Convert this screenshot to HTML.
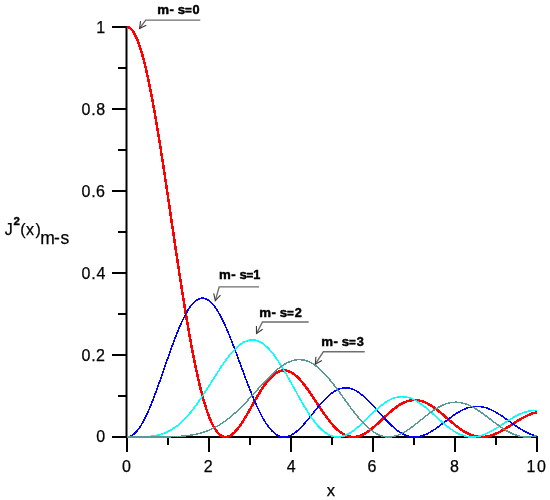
<!DOCTYPE html>
<html><head><meta charset="utf-8"><style>
html,body{margin:0;padding:0;background:#fff;overflow:hidden;}
svg{display:block;}
text{fill:#000;stroke:#000;stroke-width:0.25px;}
</style></head><body>
<svg width="550" height="500" viewBox="0 0 550 500">
<rect width="550" height="500" fill="#fff"/>
<rect x="125.5" y="26" width="2" height="412" fill="#000"/>
<rect x="125" y="436" width="413" height="2" fill="#000"/>
<rect x="112" y="436" width="14" height="2" fill="#000"/>
<rect x="118" y="395" width="8" height="2" fill="#000"/>
<rect x="112" y="354" width="14" height="2" fill="#000"/>
<rect x="118" y="313" width="8" height="2" fill="#000"/>
<rect x="112" y="272" width="14" height="2" fill="#000"/>
<rect x="118" y="231" width="8" height="2" fill="#000"/>
<rect x="112" y="190" width="14" height="2" fill="#000"/>
<rect x="118" y="149" width="8" height="2" fill="#000"/>
<rect x="112" y="108" width="14" height="2" fill="#000"/>
<rect x="118" y="67" width="8" height="2" fill="#000"/>
<rect x="112" y="26" width="14" height="2" fill="#000"/>
<rect x="126" y="438" width="2" height="14" fill="#000"/>
<rect x="167" y="438" width="2" height="7" fill="#000"/>
<rect x="208" y="438" width="2" height="14" fill="#000"/>
<rect x="249" y="438" width="2" height="7" fill="#000"/>
<rect x="290" y="438" width="2" height="14" fill="#000"/>
<rect x="331" y="438" width="2" height="7" fill="#000"/>
<rect x="372" y="438" width="2" height="14" fill="#000"/>
<rect x="413" y="438" width="2" height="7" fill="#000"/>
<rect x="454" y="438" width="2" height="14" fill="#000"/>
<rect x="495" y="438" width="2" height="7" fill="#000"/>
<rect x="536" y="438" width="2" height="14" fill="#000"/>
<path d="M127.00 27.00 L127.82 27.08 L128.64 27.33 L129.46 27.74 L130.28 28.31 L131.10 29.05 L131.92 29.94 L132.74 31.00 L133.56 32.22 L134.38 33.60 L135.20 35.14 L136.02 36.83 L136.84 38.68 L137.66 40.68 L138.48 42.84 L139.30 45.14 L140.12 47.59 L140.94 50.19 L141.76 52.93 L142.58 55.81 L143.40 58.83 L144.22 61.99 L145.04 65.27 L145.86 68.69 L146.68 72.23 L147.50 75.90 L148.32 79.69 L149.14 83.60 L149.96 87.62 L150.78 91.75 L151.60 95.98 L152.42 100.32 L153.24 104.76 L154.06 109.29 L154.88 113.92 L155.70 118.63 L156.52 123.42 L157.34 128.30 L158.16 133.25 L158.98 138.27 L159.80 143.36 L160.62 148.51 L161.44 153.71 L162.26 158.98 L163.08 164.29 L163.90 169.64 L164.72 175.04 L165.54 180.47 L166.36 185.93 L167.18 191.42 L168.00 196.93 L168.82 202.46 L169.64 208.01 L170.46 213.56 L171.28 219.12 L172.10 224.68 L172.92 230.23 L173.74 235.78 L174.56 241.31 L175.38 246.83 L176.20 252.33 L177.02 257.80 L177.84 263.24 L178.66 268.65 L179.48 274.02 L180.30 279.35 L181.12 284.64 L181.94 289.87 L182.76 295.06 L183.58 300.19 L184.40 305.26 L185.22 310.26 L186.04 315.20 L186.86 320.07 L187.68 324.87 L188.50 329.59 L189.32 334.24 L190.14 338.80 L190.96 343.28 L191.78 347.67 L192.60 351.97 L193.42 356.18 L194.24 360.30 L195.06 364.32 L195.88 368.24 L196.70 372.06 L197.52 375.78 L198.34 379.40 L199.16 382.91 L199.98 386.31 L200.80 389.61 L201.62 392.80 L202.44 395.87 L203.26 398.84 L204.08 401.69 L204.90 404.44 L205.72 407.07 L206.54 409.58 L207.36 411.98 L208.18 414.27 L209.00 416.45 L209.82 418.51 L210.64 420.46 L211.46 422.29 L212.28 424.01 L213.10 425.62 L213.92 427.12 L214.74 428.50 L215.56 429.78 L216.38 430.95 L217.20 432.01 L218.02 432.96 L218.84 433.81 L219.66 434.55 L220.48 435.19 L221.30 435.74 L222.12 436.18 L222.94 436.52 L223.76 436.77 L224.58 436.93 L225.40 437.00 L226.22 436.97 L227.04 436.87 L227.86 436.67 L228.68 436.40 L229.50 436.04 L230.32 435.61 L231.14 435.10 L231.96 434.52 L232.78 433.87 L233.60 433.16 L234.42 432.38 L235.24 431.54 L236.06 430.64 L236.88 429.69 L237.70 428.68 L238.52 427.62 L239.34 426.52 L240.16 425.38 L240.98 424.19 L241.80 422.96 L242.62 421.70 L243.44 420.41 L244.26 419.09 L245.08 417.74 L245.90 416.37 L246.72 414.98 L247.54 413.57 L248.36 412.15 L249.18 410.72 L250.00 409.27 L250.82 407.82 L251.64 406.37 L252.46 404.92 L253.28 403.47 L254.10 402.03 L254.92 400.59 L255.74 399.16 L256.56 397.75 L257.38 396.35 L258.20 394.97 L259.02 393.60 L259.84 392.26 L260.66 390.95 L261.48 389.66 L262.30 388.40 L263.12 387.17 L263.94 385.97 L264.76 384.81 L265.58 383.68 L266.40 382.59 L267.22 381.54 L268.04 380.53 L268.86 379.56 L269.68 378.64 L270.50 377.76 L271.32 376.92 L272.14 376.14 L272.96 375.40 L273.78 374.71 L274.60 374.07 L275.42 373.48 L276.24 372.95 L277.06 372.46 L277.88 372.03 L278.70 371.65 L279.52 371.33 L280.34 371.05 L281.16 370.84 L281.98 370.67 L282.80 370.56 L283.62 370.50 L284.44 370.50 L285.26 370.54 L286.08 370.65 L286.90 370.80 L287.72 371.01 L288.54 371.26 L289.36 371.57 L290.18 371.93 L291.00 372.33 L291.82 372.79 L292.64 373.29 L293.46 373.83 L294.28 374.43 L295.10 375.06 L295.92 375.74 L296.74 376.46 L297.56 377.23 L298.38 378.03 L299.20 378.86 L300.02 379.74 L300.84 380.65 L301.66 381.59 L302.48 382.56 L303.30 383.57 L304.12 384.60 L304.94 385.65 L305.76 386.74 L306.58 387.84 L307.40 388.97 L308.22 390.12 L309.04 391.29 L309.86 392.47 L310.68 393.66 L311.50 394.87 L312.32 396.09 L313.14 397.32 L313.96 398.56 L314.78 399.80 L315.60 401.04 L316.42 402.29 L317.24 403.54 L318.06 404.78 L318.88 406.02 L319.70 407.26 L320.52 408.49 L321.34 409.71 L322.16 410.92 L322.98 412.12 L323.80 413.30 L324.62 414.47 L325.44 415.62 L326.26 416.76 L327.08 417.87 L327.90 418.96 L328.72 420.04 L329.54 421.08 L330.36 422.10 L331.18 423.10 L332.00 424.07 L332.82 425.01 L333.64 425.92 L334.46 426.80 L335.28 427.64 L336.10 428.46 L336.92 429.24 L337.74 429.99 L338.56 430.70 L339.38 431.37 L340.20 432.01 L341.02 432.61 L341.84 433.18 L342.66 433.71 L343.48 434.19 L344.30 434.64 L345.12 435.05 L345.94 435.43 L346.76 435.76 L347.58 436.05 L348.40 436.30 L349.22 436.52 L350.04 436.69 L350.86 436.83 L351.68 436.92 L352.50 436.98 L353.32 437.00 L354.14 436.98 L354.96 436.92 L355.78 436.83 L356.60 436.70 L357.42 436.54 L358.24 436.34 L359.06 436.10 L359.88 435.83 L360.70 435.53 L361.52 435.19 L362.34 434.83 L363.16 434.43 L363.98 434.01 L364.80 433.55 L365.62 433.07 L366.44 432.56 L367.26 432.03 L368.08 431.47 L368.90 430.89 L369.72 430.29 L370.54 429.67 L371.36 429.03 L372.18 428.37 L373.00 427.70 L373.82 427.00 L374.64 426.30 L375.46 425.58 L376.28 424.85 L377.10 424.11 L377.92 423.36 L378.74 422.61 L379.56 421.85 L380.38 421.08 L381.20 420.31 L382.02 419.54 L382.84 418.77 L383.66 418.00 L384.48 417.23 L385.30 416.46 L386.12 415.70 L386.94 414.95 L387.76 414.20 L388.58 413.46 L389.40 412.73 L390.22 412.01 L391.04 411.30 L391.86 410.61 L392.68 409.93 L393.50 409.26 L394.32 408.62 L395.14 407.99 L395.96 407.37 L396.78 406.78 L397.60 406.21 L398.42 405.66 L399.24 405.13 L400.06 404.62 L400.88 404.14 L401.70 403.68 L402.52 403.25 L403.34 402.84 L404.16 402.46 L404.98 402.11 L405.80 401.78 L406.62 401.48 L407.44 401.21 L408.26 400.96 L409.08 400.75 L409.90 400.57 L410.72 400.41 L411.54 400.28 L412.36 400.19 L413.18 400.12 L414.00 400.08 L414.82 400.07 L415.64 400.09 L416.46 400.14 L417.28 400.22 L418.10 400.33 L418.92 400.47 L419.74 400.64 L420.56 400.83 L421.38 401.05 L422.20 401.30 L423.02 401.58 L423.84 401.88 L424.66 402.21 L425.48 402.56 L426.30 402.94 L427.12 403.34 L427.94 403.77 L428.76 404.22 L429.58 404.69 L430.40 405.18 L431.22 405.69 L432.04 406.22 L432.86 406.77 L433.68 407.33 L434.50 407.92 L435.32 408.51 L436.14 409.13 L436.96 409.75 L437.78 410.39 L438.60 411.05 L439.42 411.71 L440.24 412.38 L441.06 413.06 L441.88 413.75 L442.70 414.44 L443.52 415.14 L444.34 415.85 L445.16 416.55 L445.98 417.26 L446.80 417.98 L447.62 418.69 L448.44 419.40 L449.26 420.11 L450.08 420.81 L450.90 421.51 L451.72 422.21 L452.54 422.90 L453.36 423.58 L454.18 424.25 L455.00 424.92 L455.82 425.58 L456.64 426.22 L457.46 426.85 L458.28 427.47 L459.10 428.08 L459.92 428.67 L460.74 429.25 L461.56 429.81 L462.38 430.35 L463.20 430.88 L464.02 431.38 L464.84 431.87 L465.66 432.34 L466.48 432.79 L467.30 433.22 L468.12 433.63 L468.94 434.01 L469.76 434.38 L470.58 434.72 L471.40 435.04 L472.22 435.33 L473.04 435.61 L473.86 435.85 L474.68 436.08 L475.50 436.28 L476.32 436.45 L477.14 436.61 L477.96 436.73 L478.78 436.83 L479.60 436.91 L480.42 436.97 L481.24 436.99 L482.06 437.00 L482.88 436.98 L483.70 436.94 L484.52 436.87 L485.34 436.78 L486.16 436.66 L486.98 436.53 L487.80 436.37 L488.62 436.19 L489.44 435.99 L490.26 435.76 L491.08 435.52 L491.90 435.25 L492.72 434.97 L493.54 434.67 L494.36 434.35 L495.18 434.01 L496.00 433.65 L496.82 433.28 L497.64 432.90 L498.46 432.49 L499.28 432.08 L500.10 431.65 L500.92 431.21 L501.74 430.75 L502.56 430.29 L503.38 429.82 L504.20 429.33 L505.02 428.84 L505.84 428.34 L506.66 427.84 L507.48 427.33 L508.30 426.81 L509.12 426.29 L509.94 425.77 L510.76 425.24 L511.58 424.71 L512.40 424.19 L513.22 423.66 L514.04 423.14 L514.86 422.61 L515.68 422.10 L516.50 421.58 L517.32 421.07 L518.14 420.57 L518.96 420.07 L519.78 419.58 L520.60 419.09 L521.42 418.62 L522.24 418.16 L523.06 417.70 L523.88 417.26 L524.70 416.83 L525.52 416.41 L526.34 416.01 L527.16 415.62 L527.98 415.24 L528.80 414.88 L529.62 414.53 L530.44 414.20 L531.26 413.89 L532.08 413.60 L532.90 413.32 L533.72 413.06 L534.54 412.81 L535.36 412.59 L536.18 412.39 L537.00 412.20" fill="none" stroke="#ff0000" stroke-width="2.5" stroke-linejoin="round" shape-rendering="crispEdges"/>
<path d="M127.00 437.00 L127.82 436.96 L128.64 436.84 L129.46 436.63 L130.28 436.35 L131.10 435.98 L131.92 435.53 L132.74 435.00 L133.56 434.39 L134.38 433.71 L135.20 432.94 L136.02 432.10 L136.84 431.18 L137.66 430.19 L138.48 429.12 L139.30 427.98 L140.12 426.77 L140.94 425.49 L141.76 424.14 L142.58 422.73 L143.40 421.25 L144.22 419.70 L145.04 418.10 L145.86 416.43 L146.68 414.71 L147.50 412.94 L148.32 411.11 L149.14 409.22 L149.96 407.30 L150.78 405.32 L151.60 403.30 L152.42 401.24 L153.24 399.14 L154.06 397.00 L154.88 394.83 L155.70 392.62 L156.52 390.39 L157.34 388.13 L158.16 385.85 L158.98 383.54 L159.80 381.22 L160.62 378.88 L161.44 376.53 L162.26 374.17 L163.08 371.81 L163.90 369.43 L164.72 367.06 L165.54 364.69 L166.36 362.32 L167.18 359.96 L168.00 357.61 L168.82 355.27 L169.64 352.94 L170.46 350.63 L171.28 348.35 L172.10 346.08 L172.92 343.84 L173.74 341.63 L174.56 339.46 L175.38 337.31 L176.20 335.20 L177.02 333.13 L177.84 331.10 L178.66 329.11 L179.48 327.17 L180.30 325.27 L181.12 323.43 L181.94 321.63 L182.76 319.89 L183.58 318.21 L184.40 316.58 L185.22 315.01 L186.04 313.51 L186.86 312.06 L187.68 310.68 L188.50 309.37 L189.32 308.12 L190.14 306.95 L190.96 305.84 L191.78 304.80 L192.60 303.84 L193.42 302.95 L194.24 302.13 L195.06 301.39 L195.88 300.73 L196.70 300.14 L197.52 299.62 L198.34 299.19 L199.16 298.83 L199.98 298.55 L200.80 298.35 L201.62 298.23 L202.44 298.19 L203.26 298.22 L204.08 298.33 L204.90 298.53 L205.72 298.79 L206.54 299.14 L207.36 299.56 L208.18 300.06 L209.00 300.63 L209.82 301.28 L210.64 302.00 L211.46 302.79 L212.28 303.65 L213.10 304.59 L213.92 305.59 L214.74 306.66 L215.56 307.80 L216.38 309.00 L217.20 310.27 L218.02 311.60 L218.84 312.99 L219.66 314.44 L220.48 315.94 L221.30 317.50 L222.12 319.11 L222.94 320.78 L223.76 322.49 L224.58 324.25 L225.40 326.06 L226.22 327.91 L227.04 329.80 L227.86 331.72 L228.68 333.69 L229.50 335.69 L230.32 337.72 L231.14 339.78 L231.96 341.87 L232.78 343.98 L233.60 346.12 L234.42 348.27 L235.24 350.44 L236.06 352.63 L236.88 354.83 L237.70 357.05 L238.52 359.26 L239.34 361.49 L240.16 363.72 L240.98 365.95 L241.80 368.18 L242.62 370.40 L243.44 372.62 L244.26 374.83 L245.08 377.03 L245.90 379.21 L246.72 381.38 L247.54 383.53 L248.36 385.67 L249.18 387.78 L250.00 389.87 L250.82 391.93 L251.64 393.96 L252.46 395.96 L253.28 397.94 L254.10 399.87 L254.92 401.78 L255.74 403.64 L256.56 405.47 L257.38 407.25 L258.20 409.00 L259.02 410.70 L259.84 412.35 L260.66 413.96 L261.48 415.52 L262.30 417.04 L263.12 418.50 L263.94 419.91 L264.76 421.27 L265.58 422.58 L266.40 423.83 L267.22 425.03 L268.04 426.17 L268.86 427.26 L269.68 428.29 L270.50 429.26 L271.32 430.18 L272.14 431.04 L272.96 431.84 L273.78 432.58 L274.60 433.26 L275.42 433.89 L276.24 434.46 L277.06 434.97 L277.88 435.42 L278.70 435.81 L279.52 436.15 L280.34 436.43 L281.16 436.65 L281.98 436.82 L282.80 436.93 L283.62 436.99 L284.44 437.00 L285.26 436.95 L286.08 436.85 L286.90 436.70 L287.72 436.49 L288.54 436.24 L289.36 435.95 L290.18 435.60 L291.00 435.21 L291.82 434.78 L292.64 434.30 L293.46 433.78 L294.28 433.22 L295.10 432.63 L295.92 431.99 L296.74 431.32 L297.56 430.62 L298.38 429.88 L299.20 429.12 L300.02 428.32 L300.84 427.50 L301.66 426.65 L302.48 425.78 L303.30 424.89 L304.12 423.97 L304.94 423.04 L305.76 422.09 L306.58 421.12 L307.40 420.14 L308.22 419.15 L309.04 418.15 L309.86 417.14 L310.68 416.13 L311.50 415.11 L312.32 414.09 L313.14 413.07 L313.96 412.05 L314.78 411.03 L315.60 410.01 L316.42 409.01 L317.24 408.01 L318.06 407.01 L318.88 406.03 L319.70 405.07 L320.52 404.11 L321.34 403.17 L322.16 402.25 L322.98 401.35 L323.80 400.47 L324.62 399.61 L325.44 398.77 L326.26 397.95 L327.08 397.16 L327.90 396.40 L328.72 395.66 L329.54 394.95 L330.36 394.27 L331.18 393.62 L332.00 393.00 L332.82 392.42 L333.64 391.86 L334.46 391.35 L335.28 390.86 L336.10 390.41 L336.92 390.00 L337.74 389.62 L338.56 389.27 L339.38 388.97 L340.20 388.70 L341.02 388.47 L341.84 388.28 L342.66 388.12 L343.48 388.01 L344.30 387.93 L345.12 387.89 L345.94 387.88 L346.76 387.92 L347.58 387.99 L348.40 388.10 L349.22 388.25 L350.04 388.43 L350.86 388.65 L351.68 388.91 L352.50 389.20 L353.32 389.53 L354.14 389.89 L354.96 390.28 L355.78 390.71 L356.60 391.17 L357.42 391.66 L358.24 392.18 L359.06 392.73 L359.88 393.31 L360.70 393.92 L361.52 394.55 L362.34 395.21 L363.16 395.90 L363.98 396.61 L364.80 397.34 L365.62 398.09 L366.44 398.86 L367.26 399.65 L368.08 400.46 L368.90 401.29 L369.72 402.13 L370.54 402.98 L371.36 403.85 L372.18 404.72 L373.00 405.61 L373.82 406.51 L374.64 407.41 L375.46 408.32 L376.28 409.24 L377.10 410.16 L377.92 411.08 L378.74 412.00 L379.56 412.92 L380.38 413.84 L381.20 414.76 L382.02 415.67 L382.84 416.58 L383.66 417.47 L384.48 418.37 L385.30 419.25 L386.12 420.12 L386.94 420.98 L387.76 421.82 L388.58 422.66 L389.40 423.47 L390.22 424.27 L391.04 425.06 L391.86 425.82 L392.68 426.57 L393.50 427.30 L394.32 428.00 L395.14 428.69 L395.96 429.35 L396.78 429.98 L397.60 430.60 L398.42 431.18 L399.24 431.75 L400.06 432.28 L400.88 432.79 L401.70 433.27 L402.52 433.73 L403.34 434.15 L404.16 434.55 L404.98 434.92 L405.80 435.26 L406.62 435.56 L407.44 435.84 L408.26 436.09 L409.08 436.31 L409.90 436.50 L410.72 436.66 L411.54 436.79 L412.36 436.89 L413.18 436.95 L414.00 436.99 L414.82 437.00 L415.64 436.98 L416.46 436.93 L417.28 436.85 L418.10 436.74 L418.92 436.60 L419.74 436.44 L420.56 436.25 L421.38 436.03 L422.20 435.79 L423.02 435.52 L423.84 435.23 L424.66 434.91 L425.48 434.57 L426.30 434.20 L427.12 433.82 L427.94 433.41 L428.76 432.98 L429.58 432.54 L430.40 432.07 L431.22 431.59 L432.04 431.09 L432.86 430.57 L433.68 430.04 L434.50 429.50 L435.32 428.94 L436.14 428.37 L436.96 427.79 L437.78 427.21 L438.60 426.61 L439.42 426.00 L440.24 425.39 L441.06 424.77 L441.88 424.15 L442.70 423.52 L443.52 422.89 L444.34 422.26 L445.16 421.63 L445.98 421.00 L446.80 420.38 L447.62 419.75 L448.44 419.13 L449.26 418.52 L450.08 417.91 L450.90 417.30 L451.72 416.71 L452.54 416.12 L453.36 415.55 L454.18 414.98 L455.00 414.43 L455.82 413.89 L456.64 413.36 L457.46 412.84 L458.28 412.35 L459.10 411.86 L459.92 411.40 L460.74 410.95 L461.56 410.52 L462.38 410.10 L463.20 409.71 L464.02 409.34 L464.84 408.98 L465.66 408.65 L466.48 408.34 L467.30 408.05 L468.12 407.78 L468.94 407.53 L469.76 407.31 L470.58 407.11 L471.40 406.94 L472.22 406.78 L473.04 406.66 L473.86 406.55 L474.68 406.47 L475.50 406.42 L476.32 406.38 L477.14 406.38 L477.96 406.39 L478.78 406.43 L479.60 406.50 L480.42 406.59 L481.24 406.70 L482.06 406.83 L482.88 406.99 L483.70 407.17 L484.52 407.38 L485.34 407.60 L486.16 407.85 L486.98 408.12 L487.80 408.41 L488.62 408.72 L489.44 409.05 L490.26 409.40 L491.08 409.77 L491.90 410.15 L492.72 410.55 L493.54 410.97 L494.36 411.41 L495.18 411.86 L496.00 412.33 L496.82 412.81 L497.64 413.30 L498.46 413.81 L499.28 414.32 L500.10 414.85 L500.92 415.39 L501.74 415.93 L502.56 416.49 L503.38 417.05 L504.20 417.62 L505.02 418.20 L505.84 418.77 L506.66 419.36 L507.48 419.94 L508.30 420.53 L509.12 421.12 L509.94 421.71 L510.76 422.30 L511.58 422.89 L512.40 423.47 L513.22 424.06 L514.04 424.63 L514.86 425.21 L515.68 425.78 L516.50 426.34 L517.32 426.89 L518.14 427.44 L518.96 427.97 L519.78 428.50 L520.60 429.02 L521.42 429.52 L522.24 430.02 L523.06 430.50 L523.88 430.97 L524.70 431.42 L525.52 431.86 L526.34 432.29 L527.16 432.70 L527.98 433.09 L528.80 433.47 L529.62 433.83 L530.44 434.17 L531.26 434.49 L532.08 434.80 L532.90 435.08 L533.72 435.35 L534.54 435.60 L535.36 435.83 L536.18 436.04 L537.00 436.23" fill="none" stroke="#0000ff" stroke-width="1.6" stroke-linejoin="round" shape-rendering="crispEdges"/>
<path d="M127.00 437.00 L127.82 437.00 L128.64 437.00 L129.46 437.00 L130.28 437.00 L131.10 437.00 L131.92 437.00 L132.74 437.00 L133.56 437.00 L134.38 436.99 L135.20 436.99 L136.02 436.99 L136.84 436.98 L137.66 436.97 L138.48 436.96 L139.30 436.95 L140.12 436.93 L140.94 436.92 L141.76 436.89 L142.58 436.87 L143.40 436.84 L144.22 436.81 L145.04 436.77 L145.86 436.72 L146.68 436.67 L147.50 436.62 L148.32 436.55 L149.14 436.48 L149.96 436.40 L150.78 436.31 L151.60 436.22 L152.42 436.11 L153.24 436.00 L154.06 435.87 L154.88 435.73 L155.70 435.58 L156.52 435.42 L157.34 435.25 L158.16 435.06 L158.98 434.86 L159.80 434.64 L160.62 434.41 L161.44 434.17 L162.26 433.91 L163.08 433.63 L163.90 433.33 L164.72 433.02 L165.54 432.69 L166.36 432.34 L167.18 431.97 L168.00 431.59 L168.82 431.18 L169.64 430.75 L170.46 430.31 L171.28 429.84 L172.10 429.35 L172.92 428.84 L173.74 428.31 L174.56 427.76 L175.38 427.19 L176.20 426.59 L177.02 425.97 L177.84 425.33 L178.66 424.66 L179.48 423.98 L180.30 423.27 L181.12 422.53 L181.94 421.78 L182.76 421.00 L183.58 420.20 L184.40 419.37 L185.22 418.52 L186.04 417.66 L186.86 416.76 L187.68 415.85 L188.50 414.92 L189.32 413.96 L190.14 412.98 L190.96 411.98 L191.78 410.96 L192.60 409.93 L193.42 408.87 L194.24 407.79 L195.06 406.70 L195.88 405.59 L196.70 404.46 L197.52 403.31 L198.34 402.15 L199.16 400.97 L199.98 399.78 L200.80 398.57 L201.62 397.36 L202.44 396.13 L203.26 394.88 L204.08 393.63 L204.90 392.37 L205.72 391.10 L206.54 389.82 L207.36 388.54 L208.18 387.25 L209.00 385.96 L209.82 384.66 L210.64 383.36 L211.46 382.06 L212.28 380.76 L213.10 379.46 L213.92 378.16 L214.74 376.87 L215.56 375.58 L216.38 374.29 L217.20 373.01 L218.02 371.74 L218.84 370.48 L219.66 369.23 L220.48 367.98 L221.30 366.76 L222.12 365.54 L222.94 364.34 L223.76 363.16 L224.58 361.99 L225.40 360.85 L226.22 359.72 L227.04 358.61 L227.86 357.52 L228.68 356.46 L229.50 355.42 L230.32 354.41 L231.14 353.42 L231.96 352.46 L232.78 351.53 L233.60 350.63 L234.42 349.76 L235.24 348.92 L236.06 348.11 L236.88 347.34 L237.70 346.60 L238.52 345.90 L239.34 345.23 L240.16 344.60 L240.98 344.00 L241.80 343.44 L242.62 342.93 L243.44 342.45 L244.26 342.01 L245.08 341.62 L245.90 341.26 L246.72 340.95 L247.54 340.68 L248.36 340.45 L249.18 340.26 L250.00 340.12 L250.82 340.03 L251.64 339.97 L252.46 339.96 L253.28 340.00 L254.10 340.08 L254.92 340.20 L255.74 340.37 L256.56 340.58 L257.38 340.84 L258.20 341.14 L259.02 341.49 L259.84 341.88 L260.66 342.31 L261.48 342.79 L262.30 343.31 L263.12 343.87 L263.94 344.48 L264.76 345.12 L265.58 345.81 L266.40 346.54 L267.22 347.31 L268.04 348.11 L268.86 348.96 L269.68 349.84 L270.50 350.76 L271.32 351.72 L272.14 352.71 L272.96 353.73 L273.78 354.79 L274.60 355.88 L275.42 357.00 L276.24 358.15 L277.06 359.33 L277.88 360.54 L278.70 361.78 L279.52 363.04 L280.34 364.32 L281.16 365.63 L281.98 366.96 L282.80 368.31 L283.62 369.68 L284.44 371.07 L285.26 372.47 L286.08 373.89 L286.90 375.32 L287.72 376.77 L288.54 378.22 L289.36 379.69 L290.18 381.16 L291.00 382.64 L291.82 384.12 L292.64 385.61 L293.46 387.10 L294.28 388.59 L295.10 390.08 L295.92 391.57 L296.74 393.05 L297.56 394.53 L298.38 396.00 L299.20 397.46 L300.02 398.92 L300.84 400.36 L301.66 401.79 L302.48 403.21 L303.30 404.61 L304.12 406.00 L304.94 407.37 L305.76 408.72 L306.58 410.05 L307.40 411.36 L308.22 412.64 L309.04 413.91 L309.86 415.14 L310.68 416.36 L311.50 417.54 L312.32 418.70 L313.14 419.83 L313.96 420.93 L314.78 421.99 L315.60 423.03 L316.42 424.03 L317.24 425.00 L318.06 425.94 L318.88 426.84 L319.70 427.70 L320.52 428.53 L321.34 429.33 L322.16 430.08 L322.98 430.80 L323.80 431.48 L324.62 432.12 L325.44 432.72 L326.26 433.28 L327.08 433.81 L327.90 434.29 L328.72 434.73 L329.54 435.14 L330.36 435.50 L331.18 435.83 L332.00 436.11 L332.82 436.36 L333.64 436.56 L334.46 436.73 L335.28 436.85 L336.10 436.94 L336.92 436.99 L337.74 437.00 L338.56 436.97 L339.38 436.91 L340.20 436.81 L341.02 436.67 L341.84 436.50 L342.66 436.29 L343.48 436.05 L344.30 435.77 L345.12 435.46 L345.94 435.12 L346.76 434.75 L347.58 434.35 L348.40 433.92 L349.22 433.46 L350.04 432.97 L350.86 432.46 L351.68 431.92 L352.50 431.36 L353.32 430.77 L354.14 430.16 L354.96 429.53 L355.78 428.88 L356.60 428.22 L357.42 427.53 L358.24 426.83 L359.06 426.11 L359.88 425.38 L360.70 424.64 L361.52 423.88 L362.34 423.12 L363.16 422.34 L363.98 421.56 L364.80 420.77 L365.62 419.98 L366.44 419.18 L367.26 418.38 L368.08 417.58 L368.90 416.78 L369.72 415.98 L370.54 415.18 L371.36 414.39 L372.18 413.60 L373.00 412.82 L373.82 412.04 L374.64 411.27 L375.46 410.51 L376.28 409.77 L377.10 409.03 L377.92 408.31 L378.74 407.60 L379.56 406.91 L380.38 406.23 L381.20 405.57 L382.02 404.93 L382.84 404.30 L383.66 403.70 L384.48 403.11 L385.30 402.55 L386.12 402.01 L386.94 401.49 L387.76 401.00 L388.58 400.53 L389.40 400.08 L390.22 399.66 L391.04 399.27 L391.86 398.90 L392.68 398.56 L393.50 398.25 L394.32 397.96 L395.14 397.71 L395.96 397.48 L396.78 397.28 L397.60 397.11 L398.42 396.97 L399.24 396.86 L400.06 396.77 L400.88 396.72 L401.70 396.70 L402.52 396.70 L403.34 396.74 L404.16 396.80 L404.98 396.90 L405.80 397.02 L406.62 397.17 L407.44 397.35 L408.26 397.55 L409.08 397.79 L409.90 398.05 L410.72 398.34 L411.54 398.65 L412.36 398.99 L413.18 399.36 L414.00 399.75 L414.82 400.17 L415.64 400.60 L416.46 401.06 L417.28 401.55 L418.10 402.05 L418.92 402.57 L419.74 403.12 L420.56 403.68 L421.38 404.26 L422.20 404.86 L423.02 405.48 L423.84 406.11 L424.66 406.75 L425.48 407.41 L426.30 408.08 L427.12 408.76 L427.94 409.45 L428.76 410.16 L429.58 410.87 L430.40 411.59 L431.22 412.31 L432.04 413.04 L432.86 413.78 L433.68 414.52 L434.50 415.26 L435.32 416.00 L436.14 416.75 L436.96 417.49 L437.78 418.23 L438.60 418.97 L439.42 419.71 L440.24 420.44 L441.06 421.16 L441.88 421.88 L442.70 422.59 L443.52 423.29 L444.34 423.99 L445.16 424.67 L445.98 425.34 L446.80 426.00 L447.62 426.65 L448.44 427.28 L449.26 427.90 L450.08 428.51 L450.90 429.09 L451.72 429.66 L452.54 430.22 L453.36 430.75 L454.18 431.27 L455.00 431.77 L455.82 432.24 L456.64 432.70 L457.46 433.13 L458.28 433.55 L459.10 433.94 L459.92 434.31 L460.74 434.66 L461.56 434.98 L462.38 435.28 L463.20 435.56 L464.02 435.81 L464.84 436.04 L465.66 436.25 L466.48 436.43 L467.30 436.58 L468.12 436.71 L468.94 436.82 L469.76 436.90 L470.58 436.96 L471.40 436.99 L472.22 437.00 L473.04 436.98 L473.86 436.95 L474.68 436.88 L475.50 436.80 L476.32 436.69 L477.14 436.55 L477.96 436.40 L478.78 436.22 L479.60 436.02 L480.42 435.80 L481.24 435.56 L482.06 435.30 L482.88 435.02 L483.70 434.72 L484.52 434.40 L485.34 434.07 L486.16 433.72 L486.98 433.35 L487.80 432.96 L488.62 432.56 L489.44 432.15 L490.26 431.72 L491.08 431.28 L491.90 430.82 L492.72 430.36 L493.54 429.88 L494.36 429.39 L495.18 428.90 L496.00 428.40 L496.82 427.89 L497.64 427.37 L498.46 426.85 L499.28 426.32 L500.10 425.79 L500.92 425.26 L501.74 424.73 L502.56 424.19 L503.38 423.65 L504.20 423.12 L505.02 422.58 L505.84 422.05 L506.66 421.52 L507.48 421.00 L508.30 420.48 L509.12 419.96 L509.94 419.45 L510.76 418.95 L511.58 418.46 L512.40 417.97 L513.22 417.50 L514.04 417.03 L514.86 416.58 L515.68 416.14 L516.50 415.71 L517.32 415.29 L518.14 414.89 L518.96 414.50 L519.78 414.13 L520.60 413.77 L521.42 413.42 L522.24 413.10 L523.06 412.79 L523.88 412.49 L524.70 412.22 L525.52 411.96 L526.34 411.72 L527.16 411.51 L527.98 411.30 L528.80 411.12 L529.62 410.96 L530.44 410.82 L531.26 410.70 L532.08 410.60 L532.90 410.52 L533.72 410.46 L534.54 410.42 L535.36 410.40 L536.18 410.40 L537.00 410.42" fill="none" stroke="#00ffff" stroke-width="1.6" stroke-linejoin="round" shape-rendering="crispEdges"/>
<path d="M127.00 437.00 L127.82 437.00 L128.64 437.00 L129.46 437.00 L130.28 437.00 L131.10 437.00 L131.92 437.00 L132.74 437.00 L133.56 437.00 L134.38 437.00 L135.20 437.00 L136.02 437.00 L136.84 437.00 L137.66 437.00 L138.48 437.00 L139.30 437.00 L140.12 437.00 L140.94 437.00 L141.76 437.00 L142.58 437.00 L143.40 437.00 L144.22 437.00 L145.04 437.00 L145.86 437.00 L146.68 437.00 L147.50 437.00 L148.32 437.00 L149.14 437.00 L149.96 436.99 L150.78 436.99 L151.60 436.99 L152.42 436.99 L153.24 436.99 L154.06 436.99 L154.88 436.98 L155.70 436.98 L156.52 436.98 L157.34 436.97 L158.16 436.97 L158.98 436.96 L159.80 436.96 L160.62 436.95 L161.44 436.94 L162.26 436.93 L163.08 436.93 L163.90 436.91 L164.72 436.90 L165.54 436.89 L166.36 436.88 L167.18 436.86 L168.00 436.84 L168.82 436.82 L169.64 436.80 L170.46 436.78 L171.28 436.76 L172.10 436.73 L172.92 436.70 L173.74 436.67 L174.56 436.63 L175.38 436.60 L176.20 436.56 L177.02 436.51 L177.84 436.47 L178.66 436.42 L179.48 436.36 L180.30 436.31 L181.12 436.24 L181.94 436.18 L182.76 436.11 L183.58 436.03 L184.40 435.95 L185.22 435.87 L186.04 435.78 L186.86 435.68 L187.68 435.58 L188.50 435.48 L189.32 435.36 L190.14 435.24 L190.96 435.12 L191.78 434.98 L192.60 434.84 L193.42 434.70 L194.24 434.54 L195.06 434.38 L195.88 434.21 L196.70 434.03 L197.52 433.84 L198.34 433.64 L199.16 433.44 L199.98 433.22 L200.80 433.00 L201.62 432.76 L202.44 432.52 L203.26 432.27 L204.08 432.00 L204.90 431.73 L205.72 431.44 L206.54 431.14 L207.36 430.83 L208.18 430.51 L209.00 430.18 L209.82 429.84 L210.64 429.49 L211.46 429.12 L212.28 428.74 L213.10 428.35 L213.92 427.94 L214.74 427.53 L215.56 427.10 L216.38 426.65 L217.20 426.20 L218.02 425.73 L218.84 425.25 L219.66 424.75 L220.48 424.24 L221.30 423.72 L222.12 423.18 L222.94 422.63 L223.76 422.07 L224.58 421.50 L225.40 420.91 L226.22 420.31 L227.04 419.69 L227.86 419.06 L228.68 418.42 L229.50 417.76 L230.32 417.10 L231.14 416.42 L231.96 415.72 L232.78 415.02 L233.60 414.30 L234.42 413.57 L235.24 412.83 L236.06 412.08 L236.88 411.31 L237.70 410.54 L238.52 409.75 L239.34 408.96 L240.16 408.15 L240.98 407.34 L241.80 406.51 L242.62 405.68 L243.44 404.83 L244.26 403.98 L245.08 403.12 L245.90 402.26 L246.72 401.39 L247.54 400.51 L248.36 399.62 L249.18 398.73 L250.00 397.84 L250.82 396.94 L251.64 396.03 L252.46 395.13 L253.28 394.22 L254.10 393.31 L254.92 392.40 L255.74 391.48 L256.56 390.57 L257.38 389.66 L258.20 388.75 L259.02 387.84 L259.84 386.93 L260.66 386.02 L261.48 385.12 L262.30 384.23 L263.12 383.34 L263.94 382.45 L264.76 381.57 L265.58 380.70 L266.40 379.84 L267.22 378.98 L268.04 378.14 L268.86 377.30 L269.68 376.48 L270.50 375.67 L271.32 374.87 L272.14 374.08 L272.96 373.31 L273.78 372.55 L274.60 371.81 L275.42 371.08 L276.24 370.37 L277.06 369.67 L277.88 369.00 L278.70 368.34 L279.52 367.70 L280.34 367.08 L281.16 366.49 L281.98 365.91 L282.80 365.35 L283.62 364.82 L284.44 364.31 L285.26 363.83 L286.08 363.37 L286.90 362.93 L287.72 362.52 L288.54 362.13 L289.36 361.77 L290.18 361.44 L291.00 361.13 L291.82 360.85 L292.64 360.60 L293.46 360.38 L294.28 360.18 L295.10 360.02 L295.92 359.88 L296.74 359.77 L297.56 359.70 L298.38 359.65 L299.20 359.63 L300.02 359.65 L300.84 359.69 L301.66 359.77 L302.48 359.87 L303.30 360.01 L304.12 360.17 L304.94 360.37 L305.76 360.60 L306.58 360.86 L307.40 361.15 L308.22 361.47 L309.04 361.82 L309.86 362.20 L310.68 362.61 L311.50 363.05 L312.32 363.52 L313.14 364.01 L313.96 364.54 L314.78 365.10 L315.60 365.68 L316.42 366.29 L317.24 366.93 L318.06 367.60 L318.88 368.29 L319.70 369.01 L320.52 369.75 L321.34 370.52 L322.16 371.31 L322.98 372.12 L323.80 372.96 L324.62 373.82 L325.44 374.70 L326.26 375.60 L327.08 376.53 L327.90 377.47 L328.72 378.43 L329.54 379.40 L330.36 380.40 L331.18 381.40 L332.00 382.43 L332.82 383.47 L333.64 384.52 L334.46 385.58 L335.28 386.66 L336.10 387.74 L336.92 388.84 L337.74 389.94 L338.56 391.05 L339.38 392.17 L340.20 393.29 L341.02 394.42 L341.84 395.55 L342.66 396.68 L343.48 397.81 L344.30 398.95 L345.12 400.08 L345.94 401.22 L346.76 402.35 L347.58 403.47 L348.40 404.60 L349.22 405.71 L350.04 406.82 L350.86 407.93 L351.68 409.02 L352.50 410.11 L353.32 411.18 L354.14 412.24 L354.96 413.29 L355.78 414.33 L356.60 415.35 L357.42 416.36 L358.24 417.35 L359.06 418.33 L359.88 419.28 L360.70 420.22 L361.52 421.14 L362.34 422.04 L363.16 422.92 L363.98 423.78 L364.80 424.61 L365.62 425.42 L366.44 426.21 L367.26 426.98 L368.08 427.72 L368.90 428.43 L369.72 429.12 L370.54 429.78 L371.36 430.41 L372.18 431.02 L373.00 431.60 L373.82 432.15 L374.64 432.67 L375.46 433.17 L376.28 433.63 L377.10 434.07 L377.92 434.47 L378.74 434.85 L379.56 435.19 L380.38 435.51 L381.20 435.79 L382.02 436.05 L382.84 436.27 L383.66 436.47 L384.48 436.63 L385.30 436.76 L386.12 436.87 L386.94 436.94 L387.76 436.99 L388.58 437.00 L389.40 436.99 L390.22 436.94 L391.04 436.87 L391.86 436.77 L392.68 436.64 L393.50 436.49 L394.32 436.31 L395.14 436.10 L395.96 435.86 L396.78 435.60 L397.60 435.32 L398.42 435.01 L399.24 434.68 L400.06 434.32 L400.88 433.94 L401.70 433.54 L402.52 433.12 L403.34 432.68 L404.16 432.22 L404.98 431.74 L405.80 431.25 L406.62 430.73 L407.44 430.20 L408.26 429.66 L409.08 429.10 L409.90 428.52 L410.72 427.94 L411.54 427.34 L412.36 426.73 L413.18 426.12 L414.00 425.49 L414.82 424.85 L415.64 424.21 L416.46 423.56 L417.28 422.91 L418.10 422.25 L418.92 421.59 L419.74 420.93 L420.56 420.27 L421.38 419.60 L422.20 418.94 L423.02 418.28 L423.84 417.62 L424.66 416.96 L425.48 416.31 L426.30 415.67 L427.12 415.03 L427.94 414.40 L428.76 413.77 L429.58 413.16 L430.40 412.55 L431.22 411.95 L432.04 411.37 L432.86 410.80 L433.68 410.24 L434.50 409.70 L435.32 409.17 L436.14 408.65 L436.96 408.15 L437.78 407.67 L438.60 407.20 L439.42 406.76 L440.24 406.33 L441.06 405.92 L441.88 405.53 L442.70 405.15 L443.52 404.80 L444.34 404.47 L445.16 404.17 L445.98 403.88 L446.80 403.62 L447.62 403.38 L448.44 403.16 L449.26 402.96 L450.08 402.79 L450.90 402.64 L451.72 402.51 L452.54 402.41 L453.36 402.33 L454.18 402.28 L455.00 402.25 L455.82 402.24 L456.64 402.26 L457.46 402.30 L458.28 402.37 L459.10 402.46 L459.92 402.57 L460.74 402.70 L461.56 402.86 L462.38 403.04 L463.20 403.25 L464.02 403.47 L464.84 403.72 L465.66 403.99 L466.48 404.28 L467.30 404.59 L468.12 404.92 L468.94 405.27 L469.76 405.64 L470.58 406.03 L471.40 406.44 L472.22 406.86 L473.04 407.30 L473.86 407.76 L474.68 408.24 L475.50 408.72 L476.32 409.23 L477.14 409.74 L477.96 410.27 L478.78 410.81 L479.60 411.36 L480.42 411.93 L481.24 412.50 L482.06 413.08 L482.88 413.67 L483.70 414.27 L484.52 414.87 L485.34 415.49 L486.16 416.10 L486.98 416.72 L487.80 417.34 L488.62 417.97 L489.44 418.60 L490.26 419.22 L491.08 419.85 L491.90 420.48 L492.72 421.11 L493.54 421.73 L494.36 422.35 L495.18 422.97 L496.00 423.58 L496.82 424.18 L497.64 424.78 L498.46 425.38 L499.28 425.96 L500.10 426.54 L500.92 427.10 L501.74 427.66 L502.56 428.20 L503.38 428.74 L504.20 429.26 L505.02 429.77 L505.84 430.26 L506.66 430.75 L507.48 431.21 L508.30 431.67 L509.12 432.10 L509.94 432.52 L510.76 432.93 L511.58 433.31 L512.40 433.68 L513.22 434.03 L514.04 434.37 L514.86 434.68 L515.68 434.97 L516.50 435.25 L517.32 435.51 L518.14 435.74 L518.96 435.96 L519.78 436.16 L520.60 436.33 L521.42 436.49 L522.24 436.62 L523.06 436.74 L523.88 436.83 L524.70 436.90 L525.52 436.96 L526.34 436.99 L527.16 437.00 L527.98 436.99 L528.80 436.96 L529.62 436.91 L530.44 436.84 L531.26 436.75 L532.08 436.64 L532.90 436.52 L533.72 436.37 L534.54 436.21 L535.36 436.02 L536.18 435.82 L537.00 435.60" fill="none" stroke="#5a9a96" stroke-width="1.5" stroke-linejoin="round" shape-rendering="crispEdges"/>
<polyline points="200.30,20.10 145.70,20.10 139.50,28.50" fill="none" stroke="#6e6e6e" stroke-width="1.4"/><polyline points="146.27,25.26 139.50,28.50 140.60,21.08" fill="none" stroke="#3a3a3a" stroke-width="1.1"/>
<polyline points="259.00,286.90 219.20,286.90 215.30,300.60" fill="none" stroke="#6e6e6e" stroke-width="1.4"/><polyline points="220.50,295.19 215.30,300.60 213.73,293.27" fill="none" stroke="#3a3a3a" stroke-width="1.1"/>
<polyline points="308.70,322.00 262.50,322.00 256.50,333.50" fill="none" stroke="#6e6e6e" stroke-width="1.4"/><polyline points="262.68,329.26 256.50,333.50 256.44,326.00" fill="none" stroke="#3a3a3a" stroke-width="1.1"/>
<polyline points="364.70,351.80 323.30,351.80 315.30,364.20" fill="none" stroke="#6e6e6e" stroke-width="1.4"/><polyline points="321.85,360.54 315.30,364.20 315.93,356.73" fill="none" stroke="#3a3a3a" stroke-width="1.1"/>
<text x="81.47 91.14 96.10" y="360.60" style="font-family:'Liberation Sans',Arial,sans-serif;font-size:16px;font-weight:normal;">0.2</text>
<text x="81.47 91.14 96.53" y="278.60" style="font-family:'Liberation Sans',Arial,sans-serif;font-size:16px;font-weight:normal;">0.4</text>
<text x="81.47 91.14 96.09" y="196.60" style="font-family:'Liberation Sans',Arial,sans-serif;font-size:16px;font-weight:normal;">0.6</text>
<text x="81.47 91.14 96.20" y="114.60" style="font-family:'Liberation Sans',Arial,sans-serif;font-size:16px;font-weight:normal;">0.8</text>
<text x="96.28" y="32.70" style="font-family:'Liberation Sans',Arial,sans-serif;font-size:16px;font-weight:normal;">1</text>
<text x="96.17" y="442.20" style="font-family:'Liberation Sans',Arial,sans-serif;font-size:16px;font-weight:normal;">0</text>
<text x="121.97" y="472.20" style="font-family:'Liberation Sans',Arial,sans-serif;font-size:16px;font-weight:normal;">0</text>
<text x="203.80" y="472.20" style="font-family:'Liberation Sans',Arial,sans-serif;font-size:16px;font-weight:normal;">2</text>
<text x="286.63" y="472.20" style="font-family:'Liberation Sans',Arial,sans-serif;font-size:16px;font-weight:normal;">4</text>
<text x="367.59" y="472.20" style="font-family:'Liberation Sans',Arial,sans-serif;font-size:16px;font-weight:normal;">6</text>
<text x="449.90" y="472.20" style="font-family:'Liberation Sans',Arial,sans-serif;font-size:16px;font-weight:normal;">8</text>
<text x="526.38 536.88" y="472.20" style="font-family:'Liberation Sans',Arial,sans-serif;font-size:16px;font-weight:normal;">10</text>
<text x="4.85 13.60 20.31 26.12 35.51 40.34 54.12 60.51" y="234.60 225.30 234.60 234.60 234.60 243.60 243.60 243.60" style="font-family:'Liberation Sans',Arial,sans-serif;font-size:16px;">J<tspan style="font-size:11.5px;font-weight:bold;stroke-width:0.4px;">2</tspan>(x)<tspan style="font-size:17.5px;">m-s</tspan></text>
<text x="326.71" y="496.25" style="font-family:'Liberation Sans',Arial,sans-serif;font-size:16.5px;font-weight:normal;">x</text>
<text transform="translate(157.23 14.20) scale(1.060 1)" x="0.00 11.66 16.39 19.35 26.12 33.37" y="0" style="font-family:'Liberation Sans',Arial,sans-serif;font-size:12.5px;font-weight:bold;stroke:#000;stroke-width:0.45px;">m- s<tspan style="font-size:11px">=</tspan><tspan style="font-size:12px">0</tspan></text>
<text transform="translate(218.93 278.70) scale(1.060 1)" x="0.00 11.66 16.39 19.35 26.12 32.33" y="0" style="font-family:'Liberation Sans',Arial,sans-serif;font-size:12.5px;font-weight:bold;stroke:#000;stroke-width:0.45px;">m- s<tspan style="font-size:11px">=</tspan><tspan style="font-size:12px">1</tspan></text>
<text transform="translate(259.23 316.70) scale(1.060 1)" x="0.00 11.66 16.39 19.35 26.12 33.43" y="0" style="font-family:'Liberation Sans',Arial,sans-serif;font-size:12.5px;font-weight:bold;stroke:#000;stroke-width:0.45px;">m- s<tspan style="font-size:11px">=</tspan><tspan style="font-size:12px">2</tspan></text>
<text transform="translate(321.23 346.40) scale(1.060 1)" x="0.00 11.66 16.39 19.35 26.12 33.57" y="0" style="font-family:'Liberation Sans',Arial,sans-serif;font-size:12.5px;font-weight:bold;stroke:#000;stroke-width:0.45px;">m- s<tspan style="font-size:11px">=</tspan><tspan style="font-size:12px">3</tspan></text>
</svg>
</body></html>
